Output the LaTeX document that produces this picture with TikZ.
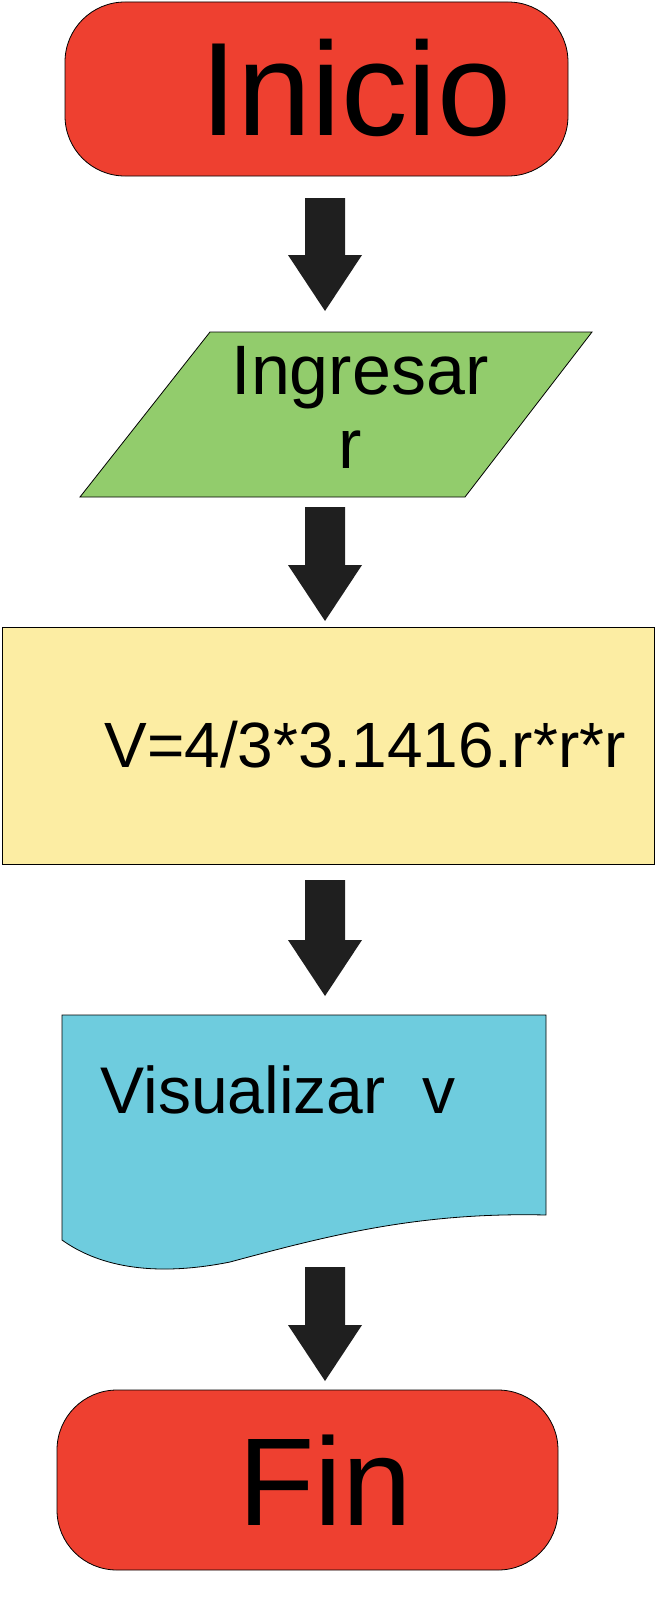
\documentclass[tikz,border=0pt]{standalone}
\usepackage{fontspec}
\setmainfont{Liberation Sans}
\begin{document}
\begin{tikzpicture}[x=1pt,y=-1pt,
  blk/.style={draw=black,line width=0.8pt},
  bigarrow/.style={fill=black!88,draw=none}]
\useasboundingbox (0,0) rectangle (667,1600);
\definecolor{rojo}{HTML}{EE4030}
\definecolor{verde}{HTML}{92CC6C}
\definecolor{amar}{HTML}{FCEDA3}
\definecolor{cian}{HTML}{6ECCDE}
% Inicio
\draw[blk,fill=rojo,rounded corners=60pt] (65,2) rectangle (568,176);
\node (ini) at (356,88) {\fontsize{133}{140}\selectfont Inicio};
\newcommand\flecha[2]{\fill[bigarrow] (305,#1) -- (345,#1) -- (345,#2) -- (362,#2) -- (325,#2+56) -- (288,#2) -- (305,#2) -- cycle;}
\flecha{198}{255}
% parallelogram
\draw[blk,fill=verde] (210,332) -- (592,332) -- (465,497) -- (80,497) -- cycle;
\node (ing) at (360,378) {\fontsize{70}{76}\selectfont Ingresar};
\node (r) at (350,450) {\fontsize{70}{76}\selectfont r};
\flecha{507}{565}
% rectangle
\draw[blk,fill=amar] (2,627) rectangle (654,864);
\node (v) at (365,745) {\fontsize{64}{70}\selectfont V=4/3*3.1416.r*r*r};
\flecha{880}{940}
% document
\draw[blk,fill=cian] (62,1015) -- (546,1015) -- (546,1215)
  .. controls (420,1212) and (330,1235) .. (230,1262)
  .. controls (140,1280) and (90,1260) .. (62,1240) -- cycle;
\node[anchor=west] (vis) at (97,1090) {\fontsize{66}{72}\selectfont Visualizar\ \ v};
\flecha{1267}{1325}
% Fin
\draw[blk,fill=rojo,rounded corners=60pt] (57,1390) rectangle (558,1570);
\node (fin) at (325,1480) {\fontsize{125}{130}\selectfont Fin};
\end{tikzpicture}
\end{document}
